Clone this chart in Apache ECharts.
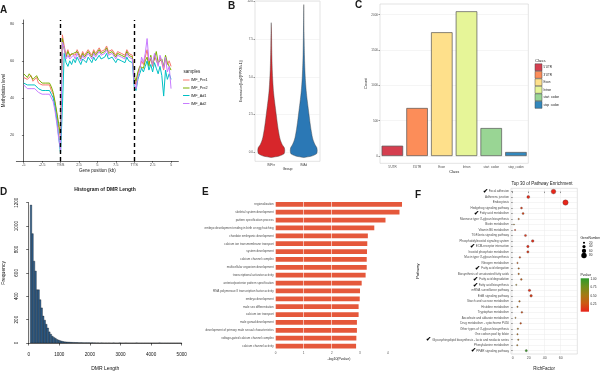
<!DOCTYPE html>
<html><head><meta charset="utf-8">
<script src="https://cdn.jsdelivr.net/npm/echarts@6/dist/echarts.min.js"></script>
<style>html,body{margin:0;padding:0;background:#fff}#c{width:600px;height:372px}</style>
</head><body><div id="c"></div>
<script>
// ---------- Panel A: methylation profile ----------
const aTickIdx = [0,10,20,30,40,50,60,70,80];
const aTickLabels = ['-5','-2.5','TSS','2.5','5','7.5','TTS','2.5','5'];
const aYTicks = [20,40,60,80];
const aMarks = [20,60];
const aSamples = ['IMF_Pre1','IMF_Pre2','IMF_Ad1','IMF_Ad2'];
const aPre1 = [51,52,50,51,52,49,50,51,48,49,47,48,47,46,47,44,42,37,31,24,18,
  74,68,63,66,62,64,65,63,66,64,62,65,63,64,66,65,63,66,64,65,67,65,64,66,68,65,64,66,65,63,65,66,64,65,63,66,64,65,63,
  50,47,53,56,60,58,62,66,59,61,57,63,60,58,62,59,55,61,58,60,57];
const aPre2 = [53,52,51,53,52,50,51,52,50,49,48,49,48,47,48,46,43,38,32,26,20,
  72,66,62,65,63,62,64,63,65,63,61,64,62,63,65,64,62,65,63,64,66,64,63,65,67,64,63,65,64,62,64,65,63,64,62,65,63,64,62,
  52,49,54,57,58,56,60,62,57,63,58,61,65,59,60,61,57,63,59,58,55];
const aAd1 = [48,49,47,48,47,46,47,46,45,46,44,45,44,43,44,42,40,35,28,19,10,
  35,64,59,57,60,58,61,59,62,60,58,61,60,59,62,61,59,62,60,61,63,61,60,62,64,61,60,62,61,59,61,62,60,61,59,62,60,61,59,
  46,44,50,53,56,54,57,60,55,58,54,59,56,53,57,52,41,55,50,53,50];
const aAd2 = [47,46,45,46,45,44,45,44,43,44,42,43,42,41,42,40,38,33,26,18,12,
  70,67,61,63,61,62,63,61,64,62,60,63,61,62,64,63,61,64,62,63,65,63,62,64,66,63,62,64,63,61,63,64,62,63,61,64,62,63,61,
  48,45,51,55,62,59,64,72,60,62,58,64,61,57,63,60,56,62,54,57,45];
const aColors = ['#F8766D','#7CAE00','#00BFC4','#C77CFF'];

// ---------- Panel B: violin ----------
const bGroups = ['IMPre','IMAd'];
const bYTicks = [0,2.5,5,7.5,10];
const bPreLevels = [-0.35,-0.25,-0.1,0.1,0.3,0.5,0.75,1,1.5,2,2.5,3,3.5,4,4.5,5,5.5,6,6.5,7,7.5,8,8.3,8.6];
const bPreWidths = [0,0.6,0.95,1,0.97,0.82,0.7,0.62,0.52,0.44,0.37,0.3,0.23,0.17,0.13,0.1,0.075,0.058,0.045,0.035,0.027,0.018,0.01,0];
const bAdLevels = [-0.35,-0.25,-0.1,0.1,0.3,0.5,0.75,1,1.5,2,2.5,3,3.5,4,4.5,5,5.5,6,6.5,7,7.5,8,8.5,9,9.5,9.8];
const bAdWidths = [0,0.6,0.95,1,0.97,0.84,0.72,0.64,0.54,0.46,0.39,0.32,0.25,0.19,0.145,0.11,0.085,0.065,0.05,0.04,0.03,0.022,0.015,0.01,0.005,0];
const bColors = ['#d7262b','#2b78b5'];

// ---------- Panel C: class counts ----------
const cClasses = ["5'UTR","3'UTR","Exon","Intron","start_codon","stop_codon"];
const cCounts = [146,680,1752,2049,396,57];
const cYTicks = [0,500,1000,1500,2000];
const cColors = ['#D53E4F','#FC8D59','#FEE08B','#E6F598','#99D594','#3288BD'];

// ---------- Panel D: histogram ----------
const dFirstBin = 50;
const dBinWidth = 50;
const dCounts = [1180,935,700,615,455,455,370,300,230,195,160,128,95,75,58,48,40,30,25,20,
  16,12,10,9,8,7,6,5,5,4,
  4,3,3,3,2,2,2,2,2,1,
  2,1,1,1,1,0,1,1,0,1,
  0,1,0,0,1,0,0,0,1,0,
  0,0,1,0,0,0,0,0,0,1,
  0,0,0,0,0,0,0,0,0,0,
  0,0,0,0,1,0,0,0,0,0,
  0,0,0,0,0,0,0,0,0];

// ---------- Panel E: GO terms ----------
const eTerms = ['regionalization','skeletal system development','pattern specification process',
  'embryo development ending in birth or egg hatching','chordate embryonic development',
  'calcium ion transmembrane transport','system development','calcium channel complex',
  'multicellular organism development','transcriptional activator activity',
  'anterior/posterior pattern specification','RNA polymerase II transcription factor activity',
  'embryo development','male sex differentiation','calcium ion transport','male gonad development',
  'development of primary male sexual characteristics','voltage-gated calcium channel complex',
  'calcium channel activity'];
const eValues = [4.51,4.42,3.92,3.52,3.29,3.27,3.26,3.25,3.25,3.21,3.07,3.01,3.0,2.96,2.96,2.9,2.9,2.88,2.87];
const eTicks = [0,1,2,3,4];

// ---------- Panel F: KEGG enrichment ----------
const fPathways = ['Focal adhesion','Adherens junction','Endocytosis','Hedgehog signaling pathway',
  'Fatty acid metabolism','Mannose type O-glycan biosynthesis','Biotin metabolism','Vitamin B6 metabolism',
  'TGF-beta signaling pathway','Phosphatidylinositol signaling system','ECM-receptor interaction',
  'Inositol phosphate metabolism','Mucin type O-glycan biosynthesis','Nitrogen metabolism',
  'Fatty acid elongation','Biosynthesis of unsaturated fatty acids','Fatty acid degradation',
  'Fatty acid biosynthesis','mRNA surveillance pathway','ErbB signaling pathway',
  'Starch and sucrose metabolism','Histidine metabolism','Tryptophan metabolism',
  'Ascorbate and aldarate metabolism','Drug metabolism - cytochrome P450','Other types of O-glycan biosynthesis',
  'One carbon pool by folate','Glycosphingolipid biosynthesis - lacto and neolacto series',
  'Phenylalanine metabolism','PPAR signaling pathway'];
const fRich = [51,19.5,66,11,13,7.5,1.6,3,16,25,19,19,9,6,7.5,7.5,10.8,4.5,21,23,8.5,6,11.5,3.5,10,6.5,6,7,5.7,17];
const fGenes = [68,36,80,18,20,10,4,6,22,30,26,24,12,8,10,10,14,6,26,28,12,8,15,5,13,9,8,9,7,22];
const fPvalue = [0.02,0.04,0.01,0.12,0.15,0.3,0.5,0.1,0.08,0.05,0.04,0.1,0.18,0.25,0.35,0.35,0.3,0.55,0.06,0.12,0.35,0.4,0.2,0.45,0.2,0.45,0.4,0.45,0.45,0.95];
const fChecked = ['Focal adhesion','Fatty acid metabolism','ECM-receptor interaction','Fatty acid elongation',
  'Fatty acid degradation','Fatty acid biosynthesis','Glycosphingolipid biosynthesis - lacto and neolacto series',
  'PPAR signaling pathway'];
const fXTicks = [0,20,40,60];
const fSizeLegend = [20,40,60,80];
const fPLegend = ['1.00','0.75','0.50','0.25'];
const fGradient = ['#2e9a2a','#6f8f1d','#a57a14','#cc5a14','#e8231a'];

// ---------- helpers ----------
const FONT = 'Liberation Sans';
const fSize = g => 1 + g * 0.055;
const grayLbl = '#4d4d4d';
const plain = v => String(v);
function txt(x, y, s, size, opt) {
  opt = opt || {};
  return { type: 'text', x: x, y: y, silent: true, z: 100,
    style: { text: s, fill: opt.color || '#1a1a1a', font: (opt.bold ? 'bold ' : '') + size + 'px "' + FONT + '"',
      textAlign: opt.align || 'left', align: opt.align || 'left',
      textVerticalAlign: 'middle', verticalAlign: 'middle' } };
}
function bwAxisY(gi, min, max, ticks, fmt) {
  return { type: 'value', gridIndex: gi, min: min, max: max,
    axisLine: { show: false },
    axisTick: { show: true, customValues: ticks, length: 1.5, lineStyle: { color: '#333', width: 0.5 } },
    axisLabel: { customValues: ticks, fontSize: 3, color: grayLbl, margin: 2, formatter: fmt || plain },
    splitLine: { show: true, lineStyle: { color: '#ebebeb', width: 0.5 } } };
}

function violinRender(params, api) {
  const g = api.value(0);
  const lv = g === 0 ? bPreLevels : bAdLevels;
  const wd = g === 0 ? bPreWidths : bAdWidths;
  const half = api.size([1, 0])[0] * 0.415;
  const L = [], R = [];
  for (let i = 0; i < lv.length; i++) {
    const p = api.coord([g, lv[i]]);
    L.push([p[0] - wd[i] * half, p[1]]);
    R.push([p[0] + wd[i] * half, p[1]]);
  }
  return { type: 'polygon', shape: { points: L.concat(R.reverse()), smooth: 0.2 },
    style: { fill: bColors[g], stroke: '#3a3a3a', lineWidth: 0.4 } };
}
function histRender(params, api) {
  const x0 = api.value(0), c = api.value(1);
  const p0 = api.coord([x0, c]);
  const p1 = api.coord([x0 + dBinWidth, 0]);
  return { type: 'rect', shape: { x: p0[0], y: p0[1], width: p1[0] - p0[0], height: p1[1] - p0[1] },
    style: { fill: '#2f6496', stroke: '#111', lineWidth: 0.35 } };
}

const graphics = [
  txt(0, 10, 'A', 10, { bold: true }), txt(228, 6, 'B', 10, { bold: true }), txt(355, 5, 'C', 10, { bold: true }),
  txt(0, 192, 'D', 10, { bold: true }), txt(202, 192, 'E', 10, { bold: true }), txt(415, 195, 'F', 10, { bold: true }),
  txt(105, 189.5, 'Histogram of DMR Length', 5, { bold: true, align: 'center' }),
  txt(542, 183.5, 'Top 30 of Pathway Enrichment', 4.5, { align: 'center' }),
  txt(183.5, 72, 'samples', 4.5)
];
const aLegY = [80, 88, 95.5, 103.5];
aSamples.forEach((s, i) => {
  graphics.push({ type: 'line', silent: true, shape: { x1: 183, y1: aLegY[i], x2: 189.5, y2: aLegY[i] },
    style: { stroke: aColors[i], lineWidth: 1 } });
  graphics.push(txt(191, aLegY[i], s, 3.8));
});
graphics.push(txt(535, 61, 'Class', 4.2));
const cLegY = [67.3, 74.8, 82.3, 89.8, 97.3, 104.8];
cClasses.forEach((s, i) => {
  graphics.push({ type: 'rect', silent: true, shape: { x: 535, y: cLegY[i] - 3.5, width: 7, height: 7 },
    style: { fill: cColors[i], stroke: '#444', lineWidth: 0.5 } });
  graphics.push(txt(543.5, cLegY[i], s, 3));
});
graphics.push(txt(580.5, 237.7, 'GeneNumber', 3.3));
const fLegY = [242.7, 246.6, 250.9, 255.5];
fSizeLegend.forEach((g, i) => {
  graphics.push({ type: 'circle', silent: true, shape: { cx: 584, cy: fLegY[i], r: fSize(g) / 2 }, style: { fill: '#000' } });
  graphics.push(txt(589, fLegY[i], String(g), 3));
});
graphics.push(txt(580.5, 275.5, 'Pvalue', 3.5));
graphics.push({ type: 'rect', silent: true, shape: { x: 580.7, y: 278.3, width: 8.3, height: 33.4 },
  style: { fill: new echarts.graphic.LinearGradient(0, 0, 0, 1,
    fGradient.map((c, i) => ({ offset: i / (fGradient.length - 1), color: c }))) } });
const fPLegY = [279, 287.3, 296, 304.5];
fPLegend.forEach((s, i) => graphics.push(txt(590.5, fPLegY[i], s, 3)));

const chart = echarts.init(document.getElementById('c'), null, { renderer: 'canvas' });
const option = {
  animation: false,
  backgroundColor: '#fff',
  textStyle: { fontFamily: FONT },
  graphic: graphics,
  grid: [
    { left: 14.2, top: 20, width: 164.2, height: 141 },
    { left: 255, top: 1, width: 65, height: 160.3, show: true, borderColor: '#d0d0d0', borderWidth: 0.6 },
    { left: 380, top: 4, width: 148.3, height: 159.3, show: true, borderColor: '#d0d0d0', borderWidth: 0.6 },
    { left: 28, top: 202.7, width: 153.7, height: 140.3 },
    { left: 275.7, top: 200.4, width: 126.6, height: 149.6 },
    { left: 511, top: 188.3, width: 66.3, height: 168.4, show: true, borderColor: '#d0d0d0', borderWidth: 0.6 }
  ],
  visualMap: [{ show: false, seriesIndex: 8, dimension: 2, min: 0, max: 1,
    inRange: { color: fGradient.slice().reverse() } }],
  xAxis: [
    { type: 'value', gridIndex: 0, min: -4, max: 84,
      name: 'Gene position (kb)', nameLocation: 'middle', nameGap: 6, nameTextStyle: { fontSize: 4.5, color: '#1a1a1a' },
      axisLine: { lineStyle: { color: '#000', width: 0.6 } },
      axisTick: { customValues: aTickIdx, length: 1.8, lineStyle: { color: '#000', width: 0.5 } },
      axisLabel: { customValues: aTickIdx, fontSize: 4, color: grayLbl, margin: 2, formatter: v => aTickLabels[aTickIdx.indexOf(v)] },
      splitLine: { show: false } },
    { type: 'category', gridIndex: 1, data: bGroups,
      name: 'Group', nameLocation: 'middle', nameGap: 5, nameTextStyle: { fontSize: 3.5, color: '#1a1a1a' },
      axisLine: { show: false }, axisTick: { alignWithLabel: true, length: 1.5, lineStyle: { color: '#333', width: 0.5 } },
      axisLabel: { fontSize: 3, color: grayLbl, margin: 2 }, splitLine: { show: false } },
    { type: 'category', gridIndex: 2, data: cClasses,
      name: 'Class', nameLocation: 'middle', nameGap: 6.7, nameTextStyle: { fontSize: 4, color: '#1a1a1a' },
      axisLine: { show: false }, axisTick: { alignWithLabel: true, length: 1.5, lineStyle: { color: '#333', width: 0.5 } },
      axisLabel: { fontSize: 3, color: grayLbl, margin: 2 }, splitLine: { show: false } },
    { type: 'value', gridIndex: 3, min: 0, max: 5000, interval: 1000, offset: 6.3,
      name: 'DMR Length', nameLocation: 'middle', nameGap: 16.5, nameTextStyle: { fontSize: 5, color: '#111' },
      axisLine: { lineStyle: { color: '#111', width: 0.6 } },
      axisTick: { length: 2.5, lineStyle: { color: '#111', width: 0.6 } },
      axisLabel: { fontSize: 4.6, color: '#111', margin: 3, formatter: plain }, splitLine: { show: false } },
    { type: 'value', gridIndex: 4, min: 0, max: 4.52,
      name: '-log10(Pvalue)', nameLocation: 'middle', nameGap: 7.5, nameTextStyle: { fontSize: 3.5, color: '#1a1a1a' },
      axisLine: { lineStyle: { color: '#777', width: 0.5 } },
      axisTick: { customValues: eTicks, length: 1.5, lineStyle: { color: '#777', width: 0.5 } },
      axisLabel: { customValues: eTicks, fontSize: 3, color: grayLbl, margin: 2, formatter: plain }, splitLine: { show: false } },
    { type: 'value', gridIndex: 5, min: -2.1, max: 80.75,
      name: 'RichFactor', nameLocation: 'middle', nameGap: 12, nameTextStyle: { fontSize: 4.5, color: '#1a1a1a' },
      axisLine: { show: false },
      axisTick: { customValues: fXTicks, length: 1.5, lineStyle: { color: '#333', width: 0.5 } },
      axisLabel: { customValues: fXTicks, fontSize: 3.5, color: grayLbl, margin: 2, formatter: plain },
      splitLine: { show: true, lineStyle: { color: '#ebebeb', width: 0.5 } } }
  ],
  yAxis: [
    { type: 'value', gridIndex: 0, min: 6, max: 82,
      name: 'Methylation level', nameLocation: 'middle', nameGap: 7.3, nameTextStyle: { fontSize: 4.5, color: '#1a1a1a' },
      axisLine: { lineStyle: { color: '#000', width: 0.6 } },
      axisTick: { customValues: aYTicks, length: 1.8, lineStyle: { color: '#000', width: 0.5 } },
      axisLabel: { customValues: aYTicks, fontSize: 4, color: grayLbl, margin: 2, formatter: plain }, splitLine: { show: false } },
    Object.assign(bwAxisY(1, -0.6, 10.04, bYTicks, v => v.toFixed(1)),
      { name: 'Expression(log2(FPKM+1))', nameLocation: 'middle', nameGap: 11, nameTextStyle: { fontSize: 3.5, color: '#1a1a1a' } }),
    Object.assign(bwAxisY(2, -103, 2152, cYTicks),
      { name: 'Count', nameLocation: 'middle', nameGap: 12.3, nameTextStyle: { fontSize: 4, color: '#1a1a1a' } }),
    { type: 'value', gridIndex: 3, min: 0, max: 1200, interval: 200, offset: 6.7,
      name: 'Frequency', nameLocation: 'middle', nameGap: 16, nameTextStyle: { fontSize: 5, color: '#111' },
      axisLine: { lineStyle: { color: '#111', width: 0.6 } },
      axisTick: { length: 2.5, lineStyle: { color: '#111', width: 0.6 } },
      axisLabel: { fontSize: 4.6, color: '#111', margin: 3, rotate: 90, formatter: plain }, splitLine: { show: false } },
    { type: 'category', gridIndex: 4, data: eTerms, inverse: true,
      axisLine: { show: false }, axisTick: { show: false },
      axisLabel: { fontSize: 3, color: grayLbl, margin: 2 }, splitLine: { show: false } },
    { type: 'value', gridIndex: 5, min: -0.6, max: 29.6, inverse: true,
      name: 'Pathway', nameLocation: 'middle', nameGap: 91, nameTextStyle: { fontSize: 4, color: '#1a1a1a' },
      axisLine: { show: false },
      axisTick: { customValues: fPathways.map((_, i) => i), length: 1.5, lineStyle: { color: '#333', width: 0.5 } },
      axisLabel: { customValues: fPathways.map((_, i) => i), fontSize: 3, color: grayLbl, margin: 2,
        formatter: v => { const n = fPathways[Math.round(v)]; return fChecked.indexOf(n) >= 0 ? '{ck|✔} ' + n : n; },
        rich: { ck: { fontSize: 6, color: '#000', fontWeight: 'bold' } } },
      splitLine: { show: true, lineStyle: { color: '#ebebeb', width: 0.5 } } }
  ],
  series: [
    ...[aPre1, aPre2, aAd1, aAd2].map((arr, k) => ({
      type: 'line', name: aSamples[k], xAxisIndex: 0, yAxisIndex: 0, symbol: 'none',
      data: arr.map((v, i) => [i, v]), lineStyle: { color: aColors[k], width: 1 }, itemStyle: { color: aColors[k] },
      markLine: k === 0 ? { silent: true, symbol: 'none', label: { show: false },
        lineStyle: { color: '#000', type: [4, 3], width: 1.4 }, data: aMarks.map(m => ({ xAxis: m })) } : undefined
    })),
    { type: 'custom', xAxisIndex: 1, yAxisIndex: 1, renderItem: violinRender, data: bGroups.map((g, i) => [i]),
      encode: { x: 0 } },
    { type: 'bar', xAxisIndex: 2, yAxisIndex: 2, barWidth: '87%',
      data: cCounts.map((v, i) => ({ value: v, itemStyle: { color: cColors[i], borderColor: '#555', borderWidth: 0.7 } })) },
    { type: 'custom', xAxisIndex: 3, yAxisIndex: 3, renderItem: histRender, encode: { x: 0, y: 1 },
      data: dCounts.map((c, i) => [dFirstBin + i * dBinWidth, c]) },
    { type: 'bar', xAxisIndex: 4, yAxisIndex: 4, barWidth: '60%', data: eValues,
      itemStyle: { color: '#e5583b' },
      markLine: { silent: true, symbol: 'none', label: { show: false },
        lineStyle: { color: '#fff', width: 0.6, type: 'solid' }, data: [{ xAxis: 1 }, { xAxis: 2 }] } },
    { type: 'scatter', xAxisIndex: 5, yAxisIndex: 5,
      data: fPathways.map((n, i) => [fRich[i], i, fPvalue[i], fGenes[i]]),
      symbolSize: d => fSize(d[3]),
      itemStyle: { borderColor: '#444', borderWidth: 0.3, opacity: 1 } }
  ]
};
chart.setOption(option);
</script></body></html>
